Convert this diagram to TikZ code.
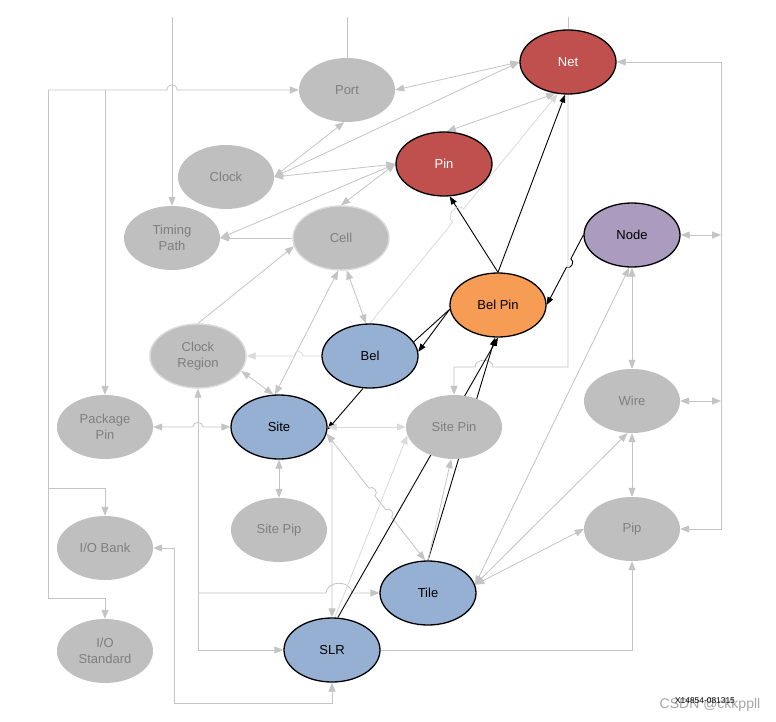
\documentclass[tikz,border=0pt]{standalone}
\usepackage{fontspec}
\setmainfont{Liberation Sans}
\usetikzlibrary{shapes.geometric,arrows.meta,calc,backgrounds}
\definecolor{gfill}{HTML}{BFBFBF}
\definecolor{gtext}{HTML}{7F7F7F}
\definecolor{gline}{HTML}{C4C4C4}
\definecolor{lline}{HTML}{DADADA}
\definecolor{redf}{HTML}{C0504D}
\definecolor{orangef}{HTML}{F79C55}
\definecolor{purplef}{HTML}{AA9BBF}
\definecolor{bluef}{HTML}{95B0D2}
\definecolor{wmark}{HTML}{A6A6A6}
\begin{document}
\begin{tikzpicture}[x=1pt,y=-1pt,
  base/.style={ellipse, minimum width=96pt, minimum height=64pt, inner sep=0pt, align=center, font=\fontsize{13}{16.5}\selectfont},
  gnode/.style={base, fill=gfill, text=gtext},
  gring/.style={gnode, draw=lline, line width=1.4pt},
  knode/.style={base, draw=black, line width=1.3pt},
  rednode/.style={knode, fill=redf, text=white},
  orgnode/.style={knode, fill=orangef},
  purnode/.style={knode, fill=purplef},
  blunode/.style={knode, fill=bluef},
  gl/.style={draw=gline, line width=0.8pt},
  ge/.style={gl, -{Triangle[length=9pt,width=7pt]}},
  gb/.style={gl, {Triangle[length=9pt,width=7pt]}-{Triangle[length=9pt,width=7pt]}},
  ll/.style={draw=lline, line width=0.8pt},
  le/.style={ll, -{Triangle[length=9pt,width=7pt]}},
  lb/.style={ll, {Triangle[length=9pt,width=7pt]}-{Triangle[length=9pt,width=7pt]}},
  kl/.style={draw=black, line width=0.9pt},
  ke/.style={kl, -{Triangle[length=8pt,width=6pt]}},
  hop/.style={bend left=90, looseness=1.4}
]
\useasboundingbox (0,0) rectangle (776,722);

% nodes
\node[gnode] (port) at (347,90) {Port};
\node[rednode] (net) at (568,62) {Net};
\node[rednode] (pin) at (444,164) {Pin};
\node[gnode] (clock) at (226,177) {Clock};
\node[gnode] (timing) at (172,238) {Timing\\Path};
\node[gring] (cell) at (341,238) {Cell};
\node[purnode] (node) at (632,235) {Node};
\node[orgnode] (belpin) at (498,305) {Bel Pin};
\node[gring] (clockreg) at (198,356) {Clock\\Region};
\node[blunode] (bel) at (370,356) {Bel};
\node[gnode] (pkgpin) at (105,427) {Package\\Pin};
\node[blunode] (site) at (279,427) {Site};
\node[gnode] (sitepin) at (454,427) {Site Pin};
\node[gnode] (wire) at (632,401) {Wire};
\node[gnode] (pip) at (632,529) {Pip};
\node[gnode] (sitepip) at (279,530) {Site Pip};
\node[gnode] (iobank) at (105,548) {I/O Bank};
\node[blunode] (tile) at (428,593) {Tile};
\node[gnode] (iostd) at (105,651) {I/O\\Standard};
\node[blunode] (slr) at (332,650) {SLR};

% free ends
\coordinate (t1) at (172,17);
\coordinate (t2) at (347,17);
\coordinate (t3) at (568,17);
\coordinate (lt) at (48,90);
\coordinate (busT) at (721,62);
\coordinate (busN) at (721,235);
\coordinate (busW) at (721,401);
\coordinate (busP) at (721,529);

\begin{scope}[on background layer]
\fill[white] (0,0) rectangle (776,722);

% top / left tree
\draw[ge] (t1) -- (timing.north);
\draw[gl] (t2) -- (port.north);
\draw[gl] (t3) -- (net.north);
\draw[ge] (lt) -- (167,90) .. controls (167,83) and (177,83) .. (177,90) -- (port.west);
\draw[ge] (105,90) -- (pkgpin.north);
\draw[ge] (lt) -- (48,488) -| (iobank.north);
\draw[ge] (48,488) -- (48,598) -| (iostd.north);

% upper cluster
\draw[gb] (port.east) -- (net.west);
\draw[gb] (clock.east) -- (net.west);
\draw[gb] (clock.east) -- (port.265);
\draw[gb] (clock.east) -- (pin.west);
\draw[ge] (pin.west) -- (timing.east);
\draw[gb] (pin.west) -- (cell.north);
\draw[gb] (net.248) -- (pin.85);
\draw[ke] (belpin.north) -- (net.265);
\draw[ke] (belpin.north) -- (pin.-80);
\draw[le] (bel.north) -- ($(bel.north)!0.44!(net.252)$) to[hop] ($(bel.north)!0.5!(net.252)$) -- (net.252);
\draw[gb] (cell.280) -- (bel.97);
\draw[gb] (cell.265) -- (site.97);
\draw[ge] (clockreg.north) -- (cell.190);
\draw[ge] (cell.west) -- (timing.east);
\draw[le] (bel.west) -- (303,356) .. controls (303,350) and (294,350) .. (294,356) -- (clockreg.east);
\draw[gb] (clockreg.-19) -- (site.100);
\draw[ke] (bel.258) -- (site.-3);
\draw[kl] (belpin.185) -- (bel.18);
\draw[ke] (belpin.185) -- (bel.5);
\draw[ke] (node.west) -- ($(node.west)!0.34!(belpin.east)$) to[hop] ($(node.west)!0.46!(belpin.east)$) -- (belpin.east);
\draw[ge] (net.south) -- (568,367) -- (493,367) .. controls (493,358) and (475,358) .. (475,367) -| (sitepin.north);

% right bus
\draw[gb] (net.east) -- (busT) -- (busP) -- (pip.east);
\draw[gb] (node.east) -- (busN);
\draw[gb] (wire.east) -- (busW);
\draw[gb] (node.south) -- (wire.north);
\draw[gb] (wire.south) -- (pip.north);
\draw[gb] (tile.10) -- (node.265);
\draw[gb] (tile.10) -- (wire.262);
\draw[gb] (tile.10) -- (pip.west);
\draw[ge] (slr.east) -| (pip.south);

% lower cluster
\draw[gb] (pkgpin.east) -- (193,427) .. controls (193,421) and (203,421) .. (203,427) -- (site.west);
\draw[gb] (clockreg.south) -- (198,650) -- (slr.west);
\draw[ge] (198,593) -- (326,593) .. controls (327,580) and (351,580) .. (352,593) -- (tile.west);
\draw[gb] (slr.south) -- (332,703) -- (174,703) -- (174,548) -- (iobank.east);
\draw[lb] (site.east) -- (sitepin.west);
\draw[gb] (site.south) -- (sitepip.north);
\draw[gb] (site.-8) -- ($(site.-8)!0.43!(tile.95)$) to[hop] ($(site.-8)!0.49!(tile.95)$)
   -- ($(site.-8)!0.60!(tile.95)$) to[hop] ($(site.-8)!0.66!(tile.95)$) -- (tile.95);
\draw[gb] (site.-8) -- (332,440) -- (slr.north);
\draw[le] (slr.85) -- (sitepin.190);
\draw[ke] (slr.80) -- (belpin.south);
\draw[ke] (tile.north) -- (belpin.265);
\draw[ge] (tile.north) -- (sitepin.265);
\end{scope}

% watermark texts
\node[text=wmark, font=\fontsize{14}{14}\selectfont, inner sep=0pt] (wm) at (710,705) {CSDN @ckkppll};
\node[text=black, font=\fontsize{8.4}{8.4}\selectfont, inner sep=0pt] (code) at (705,701) {X14854-081315};
\end{tikzpicture}
\end{document}
